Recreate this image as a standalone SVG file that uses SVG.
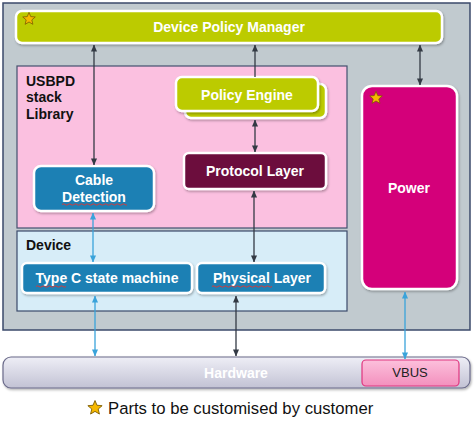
<svg xmlns="http://www.w3.org/2000/svg" width="474" height="421" viewBox="0 0 474 421">
<defs>
<style>
.lbl{font-family:"Liberation Sans",Arial,sans-serif;font-weight:bold;font-size:14px;fill:#ffffff;text-anchor:middle}
.sec{font-family:"Liberation Sans",Arial,sans-serif;font-weight:bold;font-size:14px;fill:#111111}
.box{stroke:#ffffff;stroke-width:2.5}
.dk{stroke:#333a44;stroke-width:1.3;fill:none}
.lb{stroke:#3aa3da;stroke-width:1.3;fill:none}
.sq{stroke:#d23c3c;stroke-width:1;fill:none}
</style>
<filter id="sh" x="-10%" y="-20%" width="120%" height="150%">
<feDropShadow dx="1" dy="1.5" stdDeviation="1.2" flood-color="#000" flood-opacity="0.3"/>
</filter>
<marker id="ad" viewBox="0 0 8 8" refX="7.5" refY="4" markerWidth="7" markerHeight="7" markerUnits="userSpaceOnUse" orient="auto-start-reverse">
<path d="M0,0.5 L8,4 L0,7.5 Z" fill="#333a44"/>
</marker>
<marker id="ab" viewBox="0 0 8 8" refX="7.5" refY="4" markerWidth="7" markerHeight="7" markerUnits="userSpaceOnUse" orient="auto-start-reverse">
<path d="M0,0.5 L8,4 L0,7.5 Z" fill="#3aa3da"/>
</marker>
<path id="star" d="M0,-6 L1.59,-2.18 L5.71,-1.85 L2.57,0.83 L3.53,4.85 L0,2.7 L-3.53,4.85 L-2.57,0.83 L-5.71,-1.85 L-1.59,-2.18 Z" fill="#f6b800" stroke="#7a5a00" stroke-width="0.7"/>
<linearGradient id="hw" x1="0" y1="0" x2="0" y2="1">
<stop offset="0" stop-color="#eeeef6"/>
<stop offset="1" stop-color="#c2c2d4"/>
</linearGradient>
<linearGradient id="vb" x1="0" y1="0" x2="0" y2="1">
<stop offset="0" stop-color="#fcc0dc"/>
<stop offset="1" stop-color="#f390bd"/>
</linearGradient>
</defs>

<g id="stack-container">
<rect x="3" y="3" width="467" height="327" fill="#c1cacf" stroke="#3b4a6b" stroke-width="1.5"/>
</g>

<g id="usbpd-library">
<rect x="17" y="66" width="330" height="162" fill="#fbc0e0" stroke="#44506e" stroke-width="1.2"/>
<text class="sec" x="26" y="86">USBPD</text>
<text class="sec" x="26" y="102">stack</text>
<text class="sec" x="26" y="119">Library</text>
</g>

<g id="device">
<rect x="17" y="231" width="330" height="80" fill="#d7edf8" stroke="#3b4a6b" stroke-width="1.2"/>
<text class="sec" x="26" y="250">Device</text>
</g>

<g id="device-policy-manager">
<rect class="box" x="16" y="11" width="426" height="32" rx="6" fill="#bccb00" filter="url(#sh)"/>
<use href="#star" transform="translate(29,19) scale(1.1)"/>
<text class="lbl" x="229" y="32">Device Policy Manager</text>
</g>

<g id="policy-engine">
<rect class="box" x="185" y="84" width="141" height="34" rx="6" fill="#bccb00" filter="url(#sh)"/>
<rect class="box" x="176" y="77" width="142" height="34" rx="6" fill="#bccb00" filter="url(#sh)"/>
<text class="lbl" x="247" y="100">Policy Engine</text>
</g>

<g id="protocol-layer">
<rect class="box" x="184" y="153" width="142" height="36" rx="5" fill="#6c0a3c" filter="url(#sh)"/>
<text class="lbl" x="255" y="176">Protocol Layer</text>
</g>

<g id="cable-detection">
<rect class="box" x="34" y="166" width="120" height="45" rx="7" fill="#1e80b4" filter="url(#sh)"/>
<text class="lbl" x="94" y="185">Cable</text>
<text class="lbl" x="94" y="202">Detection</text>
<path class="sq" d="M62,204.5 q1.5,-1.4 3,0 t3,0 t3,0 t3,0 t3,0 t3,0 t3,0 t3,0 t3,0 t3,0 t3,0 t3,0 t3,0 t3,0 t3,0 t3,0 t3,0 t3,0 t3,0 t3,0 t3,0 t2,0"/>
</g>

<g id="type-c-state-machine">
<rect class="box" x="22" y="263" width="170" height="30" rx="5" fill="#1e80b4" filter="url(#sh)"/>
<text class="lbl" x="107" y="283">Type C state machine</text>
<path class="sq" d="M36,286.5 q1.5,-1.4 3,0 t3,0 t3,0 t3,0 t3,0 t3,0 t3,0 t3,0 t3,0 t3,0"/>
</g>

<g id="physical-layer">
<rect class="box" x="197" y="263" width="128" height="30" rx="5" fill="#1e80b4" filter="url(#sh)"/>
<text class="lbl" x="262" y="283">Physical Layer</text>
<path class="sq" d="M212,286.5 q1.5,-1.4 3,0 t3,0 t3,0 t3,0 t3,0 t3,0 t3,0 t3,0 t3,0 t3,0 t3,0 t3,0 t3,0 t3,0 t3,0 t3,0 t3,0 t3,0 t3,0 t3,0"/>
</g>

<g id="power">
<rect class="box" x="362" y="86" width="95" height="203" rx="10" fill="#d4007a" filter="url(#sh)"/>
<use href="#star" transform="translate(376,98) scale(1.1)"/>
<text class="lbl" x="409" y="193">Power</text>
</g>

<g id="hardware">
<rect x="3" y="357" width="467" height="31" rx="8" fill="url(#hw)" stroke="#6b6b8a" stroke-width="1.2" filter="url(#sh)"/>
<text class="lbl" x="236" y="378">Hardware</text>
</g>

<g id="vbus">
<rect x="362" y="360" width="97" height="26" rx="4" fill="url(#vb)" stroke="#e0347e" stroke-width="1.2"/>
<text x="410" y="377" font-family="'Liberation Sans',Arial,sans-serif" font-size="13" fill="#222" text-anchor="middle">VBUS</text>
</g>

<g id="connectors">
<line class="dk" x1="94" y1="165" x2="94" y2="45" marker-start="url(#ad)" marker-end="url(#ad)"/>
<line class="dk" x1="255" y1="77" x2="255" y2="45" marker-end="url(#ad)"/>
<line class="dk" x1="255" y1="152" x2="255" y2="120" marker-start="url(#ad)" marker-end="url(#ad)"/>
<line class="dk" x1="420" y1="45" x2="420" y2="85" marker-start="url(#ad)" marker-end="url(#ad)"/>
<line class="dk" x1="254" y1="191" x2="254" y2="262" marker-start="url(#ad)" marker-end="url(#ad)"/>
<line class="lb" x1="93" y1="213" x2="93" y2="262" marker-start="url(#ab)" marker-end="url(#ab)"/>
<line class="lb" x1="95" y1="296" x2="95" y2="356" marker-start="url(#ab)" marker-end="url(#ab)"/>
<line class="dk" x1="236" y1="296" x2="236" y2="356" marker-start="url(#ad)" marker-end="url(#ad)"/>
<line class="lb" x1="405" y1="292" x2="405" y2="359" marker-start="url(#ab)" marker-end="url(#ab)"/>
</g>

<g id="legend">
<use href="#star" transform="translate(95,408) scale(1.25)"/>
<text x="108" y="414" font-family="'Liberation Sans',Arial,sans-serif" font-size="16.7" fill="#111">Parts to be customised by customer</text>
</g>
</svg>
